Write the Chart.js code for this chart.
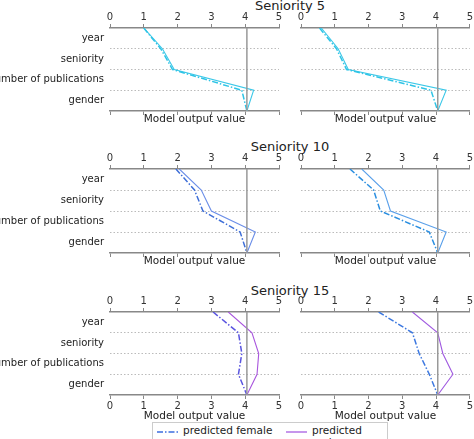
<!DOCTYPE html>
<html><head><meta charset="utf-8">
<script src="https://cdn.jsdelivr.net/npm/chart.js@4"></script>
<style>
body{margin:0;width:474px;height:439px;overflow:hidden;background:#fff;font-family:"DejaVu Sans";position:relative}
canvas{position:absolute}
.t{position:absolute;left:190px;width:200px;text-align:center;font-size:13px;color:#222}
#leg{position:absolute;left:152px;top:422px;width:234px;height:17px;border:1px solid #ccc;border-bottom:none;font-size:10.5px;color:#222}
</style></head><body>
<div class="t" style="top:-2px">Seniority 5</div>
<div class="t" style="top:139px">Seniority 10</div>
<div class="t" style="top:283px">Seniority 15</div>
<div id="leg">
<svg width="234" height="17" style="position:absolute;left:0;top:0">
<line x1="4" y1="9" x2="25" y2="9" stroke="#3c6ee0" stroke-width="1.5" stroke-dasharray="6,2,1.5,2"/>
<line x1="133" y1="9" x2="154" y2="9" stroke="#a050e0" stroke-width="1.2"/>
</svg>
<span style="position:absolute;left:30px;top:1px">predicted female</span>
<span style="position:absolute;left:159px;top:1px">predicted male</span>
</div>
<canvas id="c0"></canvas><canvas id="c1"></canvas><canvas id="c2"></canvas>
<canvas id="c3"></canvas><canvas id="c4"></canvas><canvas id="c5"></canvas>
<script>
const features = ["year", "seniority", "number of publications", "gender"];
const xTicks = [0, 1, 2, 3, 4, 5];
const baseValue = 4.05;
// values from top of the plot down to the base value
const female = [
  [1.0, 1.5, 1.85, 3.9, 4.05], [0.55, 1.05, 1.35, 3.85, 4.05],
  [1.95, 2.5, 2.75, 3.85, 4.05], [1.45, 2.15, 2.35, 3.8, 4.05],
  [3.05, 3.8, 3.9, 3.8, 4.05], [2.3, 3.3, 3.5, 3.8, 4.05]
];
const male = [
  [1.0, 1.55, 1.9, 4.25, 4.05], [0.6, 1.1, 1.4, 4.3, 4.05],
  [2.05, 2.7, 3.0, 4.3, 4.05], [1.8, 2.45, 2.65, 4.3, 4.05],
  [3.5, 4.2, 4.4, 4.35, 4.05], [3.3, 4.05, 4.2, 4.5, 4.05]
];
const femaleColors = ["#2ec4e6", "#2ec4e6", "#3f6fd8", "#2a8ee0", "#5a55e0", "#3c78e0"];
const maleColors = ["#3cc8e8", "#3cc8e8", "#6b8ee8", "#5aa0ea", "#a855dd", "#a05ae0"];

const rowTop = [11, 152, 295];
const rowH = [115, 116, 128];

for (let i = 0; i < 6; i++) {
  const row = Math.floor(i / 2), left = i % 2 === 0;
  const cv = document.getElementById("c" + i);
  const w = left ? 290 : 184;
  cv.style.left = (left ? 0 : 290) + "px";
  cv.style.top = rowTop[row] + "px";
  cv.style.width = w + "px"; cv.style.height = rowH[row] + "px";
  cv.width = w; cv.height = rowH[row];
  const pts = arr => arr.map((v, k) => ({ x: v, y: k }));
  const tickFont = { family: "DejaVu Sans", size: 10 };
  new Chart(cv, {
    type: "line",
    data: {
      datasets: [
        { data: [{ x: baseValue, y: 0 }, { x: baseValue, y: 4 }], borderColor: "#999", borderWidth: 1.5, pointRadius: 0 },
        { data: pts(female[i]), borderColor: femaleColors[i], borderWidth: 1.5, borderDash: [6, 2, 1.5, 2], pointRadius: 0 },
        { data: pts(male[i]), borderColor: maleColors[i], borderWidth: 1.1, pointRadius: 0 }
      ]
    },
    options: {
      responsive: false, animation: false,
      layout: { padding: { left: left ? 0 : 11, right: left ? 11 : 4, top: 0, bottom: 0 } },
      plugins: { legend: { display: false }, tooltip: { enabled: false } },
      scales: {
        xt: {
          type: "linear", position: "top", min: 0, max: 5,
          afterBuildTicks: s => { s.ticks = xTicks.map(v => ({ value: v })); },
          afterFit: s => { s.height = 17; },
          ticks: { font: tickFont, color: "#333", padding: 1, maxRotation: 0, autoSkip: false },
          grid: { display: true, drawOnChartArea: false, tickLength: 4, color: "#888", lineWidth: 1 },
          border: { color: "#888", width: 1.5 }
        },
        x: {
          type: "linear", position: "bottom", min: 0, max: 5,
          afterBuildTicks: s => { s.ticks = xTicks.map(v => ({ value: v })); },
          afterFit: s => { s.height = row === 2 ? 28 : 15; },
          ticks: { display: row === 2, font: tickFont, color: "#333", padding: 1, maxRotation: 0, autoSkip: false },
          grid: { display: true, drawOnChartArea: false, tickLength: 4, color: "#888", lineWidth: 1 },
          border: { color: "#888", width: 1.5 },
          title: { display: true, text: "Model output value", font: { family: "DejaVu Sans", size: 10.5 }, color: "#222", padding: 0 }
        },
        y: {
          type: "linear", min: 0, max: 4, reverse: true, display: true,
          afterBuildTicks: s => { s.ticks = [0.5, 1, 1.5, 2, 2.5, 3, 3.5].map(v => ({ value: v })); },
          afterFit: s => { s.width = left ? 110 : 0; },
          ticks: {
            display: left, autoSkip: false, font: { family: "DejaVu Sans", size: 10 }, color: "#222", padding: 6,
            callback: v => (v % 1 === 0.5 ? features[Math.floor(v)] : "")
          },
          grid: { drawTicks: false, color: c => (c.tick && c.tick.value % 1 === 0 ? "#bbb" : "transparent"), lineWidth: 1 },
          border: { display: false, dash: [1.5, 2] }
        }
      }
    }
  });
}
</script>
</body></html>
